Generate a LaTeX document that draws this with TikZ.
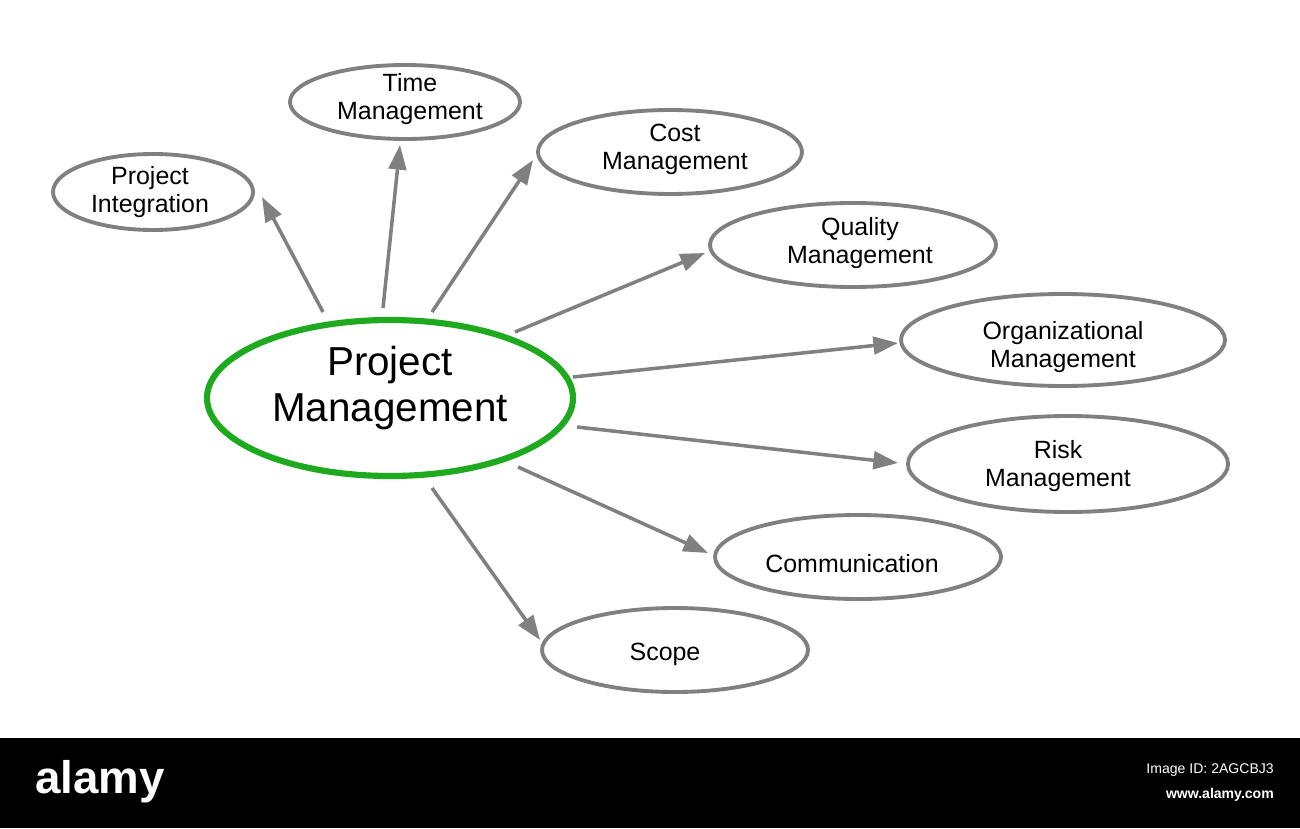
\documentclass[tikz,border=0pt]{standalone}
\usepackage{fontspec}
\setmainfont{Liberation Sans}
\usetikzlibrary{arrows.meta}
\definecolor{eg}{RGB}{128,128,128}
\definecolor{pmg}{RGB}{30,170,30}
\begin{document}
\begin{tikzpicture}[x=0.02cm,y=-0.02cm,
  oval/.style={draw=eg,line width=2.2pt},
  lbl/.style={align=center,font=\fontsize{14.2}{16}\selectfont},
  arr/.style={draw=eg,line width=2pt,-{Triangle[length=14pt,width=10pt]}}]
\useasboundingbox (0,0) rectangle (1300,828);
\fill[white] (0,0) rectangle (1300,738);
% central
\draw[pmg,line width=3.5pt] (390,398) ellipse [x radius=183,y radius=78];
\node[align=center,font=\fontsize{23}{26}\selectfont] (pm) at (390,388) {Project\\Management};
% ellipses
\draw[oval] (153,192) ellipse [x radius=100,y radius=38];
\node[lbl] (pi) at (150,192) {Project\\Integration};
\draw[oval] (405,102) ellipse [x radius=115,y radius=37];
\node[lbl] (tm) at (410,99) {Time\\Management};
\draw[oval] (670,152) ellipse [x radius=132,y radius=42];
\node[lbl] (cm) at (675,149) {Cost\\Management};
\draw[oval] (853,245) ellipse [x radius=143,y radius=42];
\node[lbl] (qm) at (860,243) {Quality\\Management};
\draw[oval] (1063,340) ellipse [x radius=162,y radius=46];
\node[lbl] (om) at (1063,347) {Organizational\\Management};
\draw[oval] (1068,464) ellipse [x radius=160,y radius=48];
\node[lbl] (rm) at (1058,466) {Risk\\Management};
\draw[oval] (858,557) ellipse [x radius=143,y radius=42];
\node[lbl] (co) at (852,564) {Communication};
\draw[oval] (675,650) ellipse [x radius=133,y radius=42];
\node[lbl] (sc) at (665,654) {Scope};
% arrow endpoints
\coordinate (s1) at (323,312); \coordinate (e1) at (262,197);
\coordinate (s2) at (383,308); \coordinate (e2) at (400,145);
\coordinate (s3) at (432,312); \coordinate (e3) at (533,160);
\coordinate (s4) at (515,332); \coordinate (e4) at (705,253);
\coordinate (s5) at (573,377); \coordinate (e5) at (898,343);
\coordinate (s6) at (577,427); \coordinate (e6) at (898,463);
\coordinate (s7) at (518,467); \coordinate (e7) at (708,553);
\coordinate (s8) at (432,488); \coordinate (e8) at (540,640);
\foreach \i in {1,...,8} \draw[arr] (s\i) -- (e\i);
% watermark bar
\fill[black] (0,738) rectangle (1300,828);
\node[white,font=\fontsize{26}{28}\selectfont\bfseries] (al) at (100,782) {alamy};
\node[white,anchor=east,font=\fontsize{8}{10}\selectfont] (id) at (1280,770) {Image ID: 2AGCBJ3};
\node[white,anchor=east,font=\fontsize{8}{10}\selectfont\bfseries] (ww) at (1280,795) {www.alamy.com};
\end{tikzpicture}
\end{document}
